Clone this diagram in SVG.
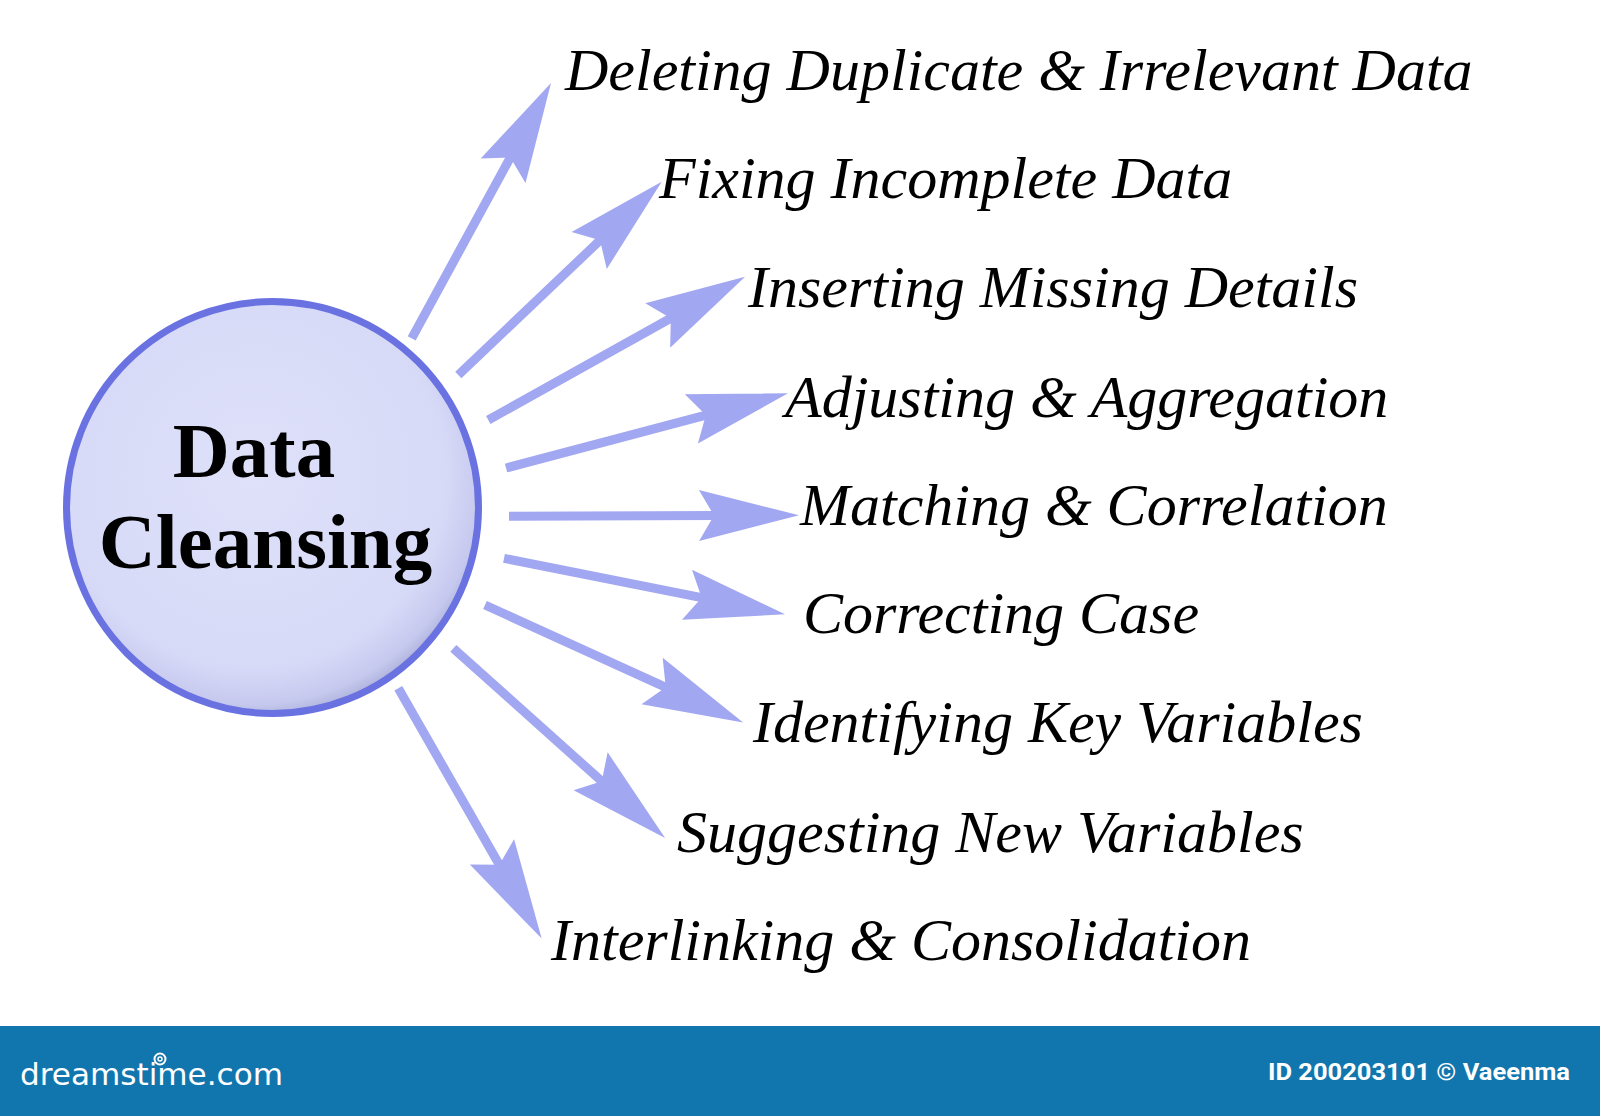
<svg xmlns="http://www.w3.org/2000/svg" width="1600" height="1116" viewBox="0 0 1600 1116">
  <style>
    .shaft { stroke: #a1a7f0; stroke-width: 9; stroke-linecap: butt; fill: none; marker-end: url(#head); }
    .hd { fill: #a1a7f0; }
    .lbl { font-family: "Liberation Serif", "Times New Roman", serif; font-style: italic; font-size: 60px; fill: #000; }
    .title { font-family: "Liberation Serif", "Times New Roman", serif; font-weight: bold; font-size: 79px; fill: #000; text-anchor: middle; }
    .foot { fill: #fff; }
  </style>
  <defs>
    <marker id="head" markerUnits="userSpaceOnUse" orient="auto" overflow="visible" markerWidth="10" markerHeight="10" refX="0" refY="0">
      <path class="hd" d="M80,0 L-20,-25.5 L-5,0 L-20,25.5 Z"/>
    </marker>
    <radialGradient id="bubble" cx="0.45" cy="0.42" r="0.6">
      <stop offset="0" stop-color="#dfe1fa"/>
      <stop offset="0.78" stop-color="#d7daf7"/>
      <stop offset="0.93" stop-color="#c6c9ee"/>
      <stop offset="1" stop-color="#a9acd6"/>
    </radialGradient>
  </defs>
  <rect width="1600" height="1116" fill="#ffffff"/>

  <g id="connectors">
    <line class="shaft" x1="411.7" y1="338.3" x2="512.7" y2="153.2"/>
    <line class="shaft" x1="458.3" y1="375" x2="603.7" y2="236.8"/>
    <line class="shaft" x1="488.3" y1="420" x2="675.2" y2="315.7"/>
    <line class="shaft" x1="506" y1="468" x2="710.7" y2="413.8"/>
    <line class="shaft" x1="509" y1="516.3" x2="719" y2="515.5"/>
    <line class="shaft" x1="504" y1="558.3" x2="706.6" y2="598.7"/>
    <line class="shaft" x1="485" y1="605" x2="670.3" y2="689.3"/>
    <line class="shaft" x1="453.3" y1="648.3" x2="605.5" y2="784.6"/>
    <line class="shaft" x1="398.3" y1="688.3" x2="501.9" y2="869.2"/>
  </g>

  <g id="node-center">
    <circle cx="272.5" cy="507.5" r="206" fill="url(#bubble)" stroke="#6a72e2" stroke-width="7"/>
    <text class="title" x="254" y="477">Data</text>
    <text class="title" x="265.5" y="568">Cleansing</text>
  </g>

  <g id="node-1"><text class="lbl" x="565" y="90">Deleting Duplicate &amp; Irrelevant Data</text></g>
  <g id="node-2"><text class="lbl" x="659" y="198">Fixing Incomplete Data</text></g>
  <g id="node-3"><text class="lbl" x="748" y="307">Inserting Missing Details</text></g>
  <g id="node-4"><text class="lbl" x="785" y="417">Adjusting &amp; Aggregation</text></g>
  <g id="node-5"><text class="lbl" x="800" y="525">Matching &amp; Correlation</text></g>
  <g id="node-6"><text class="lbl" x="803" y="633">Correcting Case</text></g>
  <g id="node-7"><text class="lbl" x="753" y="742">Identifying Key Variables</text></g>
  <g id="node-8"><text class="lbl" x="677" y="852">Suggesting New Variables</text></g>
  <g id="node-9"><text class="lbl" x="551" y="960">Interlinking &amp; Consolidation</text></g>

  <g id="footer">
    <rect x="0" y="1026" width="1600" height="90" fill="#1276ae"/>
    <text class="foot" x="20" y="1085" font-family="'DejaVu Sans', sans-serif" font-size="30" textLength="263" lengthAdjust="spacingAndGlyphs">dreamstime.com</text>
    <circle cx="160" cy="1059" r="5.5" fill="none" stroke="#fff" stroke-width="2"/>
    <circle cx="160" cy="1059" r="2" fill="none" stroke="#fff" stroke-width="1.5"/>
    <text class="foot" x="1268" y="1080" font-family="Roboto, 'Liberation Sans', sans-serif" font-weight="bold" font-size="24" textLength="302" lengthAdjust="spacingAndGlyphs">ID 200203101 © Vaeenma</text>
  </g>
</svg>
